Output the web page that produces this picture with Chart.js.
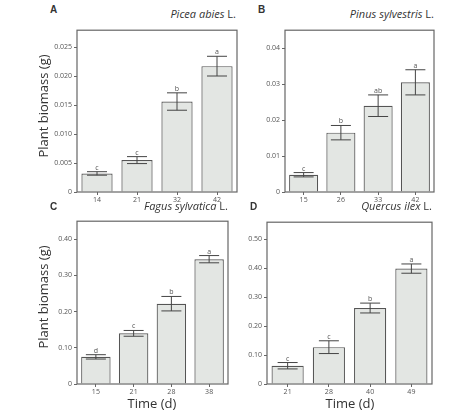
<!DOCTYPE html><html><head><meta charset="utf-8">
<script src="https://cdn.jsdelivr.net/npm/chart.js@4"></script>
<style>body{margin:0;background:#fff;width:474px;height:418px;position:relative;overflow:hidden;font-family:"Open Sans",sans-serif}
canvas{position:absolute}.t{position:absolute;color:#333}
</style></head><body>
<canvas id="cA" style="left:37px;top:24px" width="201" height="184"></canvas>
<canvas id="cB" style="left:245px;top:24px" width="190" height="184"></canvas>
<canvas id="cC" style="left:37px;top:215px" width="192" height="185"></canvas>
<canvas id="cD" style="left:227px;top:216px" width="206" height="184"></canvas>
<div class="t" style="left:50px;top:4px;font:bold 10px Arial">A</div>
<div class="t" style="left:258px;top:4px;font:bold 10px Arial">B</div>
<div class="t" style="left:50px;top:201px;font:bold 10px Arial">C</div>
<div class="t" style="left:250px;top:201px;font:bold 10px Arial">D</div>
<div class="t" style="right:238px;top:6px;font:italic 11px 'Open Sans'">Picea abies <span style="font-style:normal">L.</span></div>
<div class="t" style="right:40px;top:6px;font:italic 11px 'Open Sans'">Pinus sylvestris <span style="font-style:normal">L.</span></div>
<div class="t" style="right:246px;top:198px;font:italic 11px 'Open Sans'">Fagus sylvatica <span style="font-style:normal">L.</span></div>
<div class="t" style="right:42px;top:198px;font:italic 11px 'Open Sans'">Quercus ilex <span style="font-style:normal">L.</span></div>
<div class="t" style="left:43px;top:106px;font:13px 'Open Sans';transform:translate(-50%,-50%) rotate(-90deg);white-space:nowrap">Plant biomass (g)</div>
<div class="t" style="left:43px;top:297px;font:13px 'Open Sans';transform:translate(-50%,-50%) rotate(-90deg);white-space:nowrap">Plant biomass (g)</div>
<div class="t" style="left:152px;top:403px;font:13px 'Open Sans';transform:translate(-50%,-50%);white-space:nowrap">Time (d)</div>
<div class="t" style="left:350px;top:403px;font:13px 'Open Sans';transform:translate(-50%,-50%);white-space:nowrap">Time (d)</div>
<script>
const catsA=["14","21","32","42"], valsA=[0.0032,0.0055,0.0156,0.0217], errA=[0.0003,0.0006,0.0015,0.0017], letA=["c","c","b","a"];
const catsB=["15","26","33","42"], valsB=[0.0048,0.0165,0.024,0.0305], errB=[0.0006,0.002,0.003,0.0035], letB=["c","b","ab","a"];
const catsC=["15","21","28","38"], valsC=[0.075,0.14,0.222,0.345], errC=[0.006,0.008,0.02,0.01], letC=["d","c","b","a"];
const catsD=["21","28","40","49"], valsD=[0.063,0.127,0.262,0.398], errD=[0.011,0.022,0.017,0.016], letD=["c","c","b","a"];
const ticksA=[0,0.005,0.01,0.015,0.02,0.025], ticksB=[0,0.01,0.02,0.03,0.04], ticksC=[0,0.1,0.2,0.3,0.4], ticksD=[0,0.1,0.2,0.3,0.4,0.5];
const errPlugin={id:'err',afterDatasetsDraw(ch,a,o){const c=ch.ctx,y=ch.scales.y,m=ch.getDatasetMeta(0),ca=ch.chartArea;
 c.save();c.strokeStyle='#444';c.lineWidth=1;c.fillStyle='#555';c.font='7px "Open Sans"';c.textAlign='center';
 m.data.forEach((b,i)=>{const v=o.vals[i],e=o.errs[i],t=y.getPixelForValue(v+e),bo=y.getPixelForValue(v-e);
 c.beginPath();c.moveTo(b.x,t);c.lineTo(b.x,bo);c.moveTo(b.x-10,t);c.lineTo(b.x+10,t);c.moveTo(b.x-10,bo);c.lineTo(b.x+10,bo);c.stroke();
 c.fillText(o.lets[i],b.x,t-2);});
 c.strokeStyle='#666';c.lineWidth=1.2;c.strokeRect(ca.left,ca.top,ca.right-ca.left,ca.bottom-ca.top);c.restore();}};
function mk(id,cats,vals,errs,lets,ticks,max,dec){
 new Chart(document.getElementById(id),{type:'bar',data:{labels:cats,datasets:[{data:vals,backgroundColor:'#e3e6e3',borderColor:'#555',borderWidth:1.2,categoryPercentage:0.78,barPercentage:1}]},
 options:{responsive:false,animation:false,layout:{padding:{top:0,right:1,left:0,bottom:0}},
 plugins:{legend:{display:false},tooltip:{enabled:false},err:{vals,errs,lets}},
 scales:{x:{grid:{drawOnChartArea:false,drawTicks:true,tickLength:3,color:'#666',offset:false},border:{display:false},ticks:{color:'#555',font:{size:7,family:'Open Sans'},padding:1},afterFit(s){s.height=16}},
 y:{min:0,max:max,grid:{drawOnChartArea:false,drawTicks:true,tickLength:3,color:'#666'},border:{display:false},afterBuildTicks(s){s.ticks=ticks.map(v=>({value:v}))},
 ticks:{color:'#555',font:{size:7,family:'Open Sans'},padding:2,callback:v=>v===0?'0':v.toFixed(dec)},afterFit(s){s.width=40}}}},plugins:[errPlugin]});}
mk('cA',catsA,valsA,errA,letA,ticksA,0.0279,3);
mk('cB',catsB,valsB,errB,letB,ticksB,0.045,2);
mk('cC',catsC,valsC,errC,letC,ticksC,0.45,2);
mk('cD',catsD,valsD,errD,letD,ticksD,0.558,2);
</script></body></html>
